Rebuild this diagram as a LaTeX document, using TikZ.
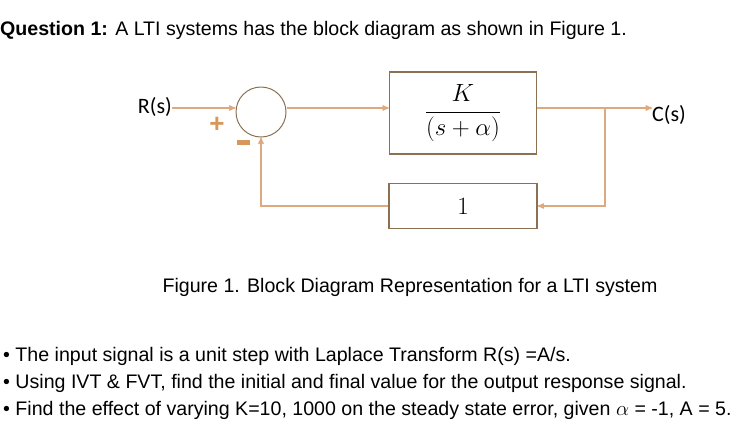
\documentclass[tikz,border=0pt]{standalone}
\usepackage{amsmath}
\usepackage{fontspec}
\setmainfont{Liberation Sans}
\newfontfamily\calibri{Carlito}
\usepackage{tikz}
\usetikzlibrary{calc}
\usetikzlibrary{arrows}
\definecolor{tanl}{RGB}{222,170,125}
\definecolor{brownb}{RGB}{140,112,82}
\definecolor{signo}{RGB}{215,150,90}

\begin{document}
\begin{tikzpicture}[x=1pt,y=-1pt,
  font=\fontsize{19.6}{23}\selectfont,
  blockn/.style={draw=brownb,line width=1.3pt,inner sep=0pt},
  sumn/.style={draw=brownb,circle,line width=1pt,minimum size=50pt,inner sep=0pt},
  sig/.style={color=tanl,line width=1.3pt,-stealth'},
  lbl/.style={font=\calibri\fontsize{22}{26}\selectfont}]
  \useasboundingbox (0,0) rectangle (749,424);
  \node[anchor=west,inner sep=0pt] (title) at (0,30) {\textbf{Question 1:} A LTI systems has the block diagram as shown in Figure 1.};
  % blocks
  \node[lbl,anchor=east,inner sep=0pt] (R) at (172,107) {R(s)};
  \node[sumn] (sum) at (261,112) {};
  \node[blockn,minimum width=147pt,minimum height=82pt] (G) at (463,113) {\fontsize{26}{30}\selectfont $\dfrac{K}{(s+\alpha)}$};
  \node[blockn,minimum width=148pt,minimum height=45pt] (H) at (463,206) {\fontsize{26}{30}\selectfont $1$};
  \node[lbl,anchor=west,inner sep=0pt] (C) at (652,115) {C(s)};
  \node[color=signo,font=\bfseries\fontsize{26}{30}\selectfont,inner sep=0pt] (plus) at (217,125) {+};
  \node[fill=signo,minimum width=13pt,minimum height=5pt,inner sep=0pt] (minus) at (243,142) {};
  \coordinate (tap) at (605,108);
  % signals
  \draw[sig] (R.east |- 0,108) -- (sum.west |- 0,108);
  \draw[sig] (sum.east |- 0,108) -- (G.west |- 0,108);
  \draw[sig] (G.east |- 0,108) -- (C.west |- 0,108);
  \draw[sig] (tap) |- (H.east);
  \draw[sig] (H.west) -| (sum.south);
  % caption and questions
  \node (cap) at (410,287) {Figure 1. Block Diagram Representation for a LTI system};
  \node[anchor=west,inner sep=0pt] (q1) at (3,356) {\textbullet\ The input signal is a unit step with Laplace Transform R(s) =A/s.};
  \node[anchor=west,inner sep=0pt] (q2) at (3,383) {\textbullet\ Using IVT \& FVT, find the initial and final value for the output response signal.};
  \node[anchor=west,inner sep=0pt] (q3) at (3,410) {\textbullet\ Find the effect of varying K=10, 1000 on the steady state error, given $\alpha$ = -1, A = 5.};
\end{tikzpicture}
\end{document}
